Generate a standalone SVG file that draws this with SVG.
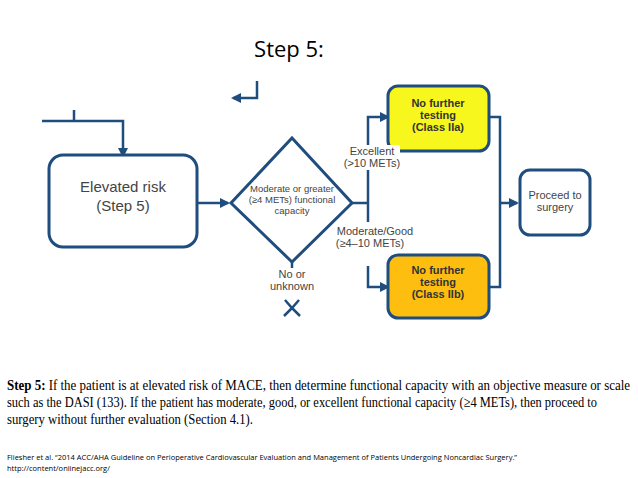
<svg xmlns="http://www.w3.org/2000/svg" width="638" height="478" viewBox="0 0 638 478">
<style>
.n{fill:#fff;stroke:#1f4d7e;stroke-width:3}
.c{fill:none;stroke:#1f4d7e;stroke-width:2.5}
.t{font-family:"Liberation Sans",Arial,sans-serif;fill:#444;text-anchor:middle}
.b{font-weight:bold;fill:#333}
</style>
<defs><marker id="a" viewBox="0 0 10 10" refX="8" refY="5" markerWidth="4" markerHeight="4" orient="auto"><path d="M0,0L10,5L0,10z" fill="#1f4d7e"/></marker></defs>
<rect width="638" height="478" fill="#fff"/>
<text x="289" y="57" font-family="Open Sans,sans-serif" font-size="22" text-anchor="middle" fill="#000">Step 5:</text>
<g id="connectors">
<path class="c" d="M42,121H123V156" marker-end="url(#a)"/>
<path class="c" d="M74,110V121"/>
<path class="c" d="M257,81V98H233" marker-end="url(#a)"/>
<path class="c" d="M198,203H228" marker-end="url(#a)"/>
<path class="c" d="M352,203H368M368,203V117H388" marker-end="url(#a)"/>
<path class="c" d="M368,203V222"/>
<path class="c" d="M368,266V287H388" marker-end="url(#a)"/>
<path class="c" d="M489,117H500V287H489M500,203H517" marker-end="url(#a)"/>
<path class="c" d="M292,262V268"/>
<path class="c" d="M285,300L292,308L299,300M292,308L284,316M292,308L300,316"/>
</g>
<g id="elevated"><rect class="n" x="49" y="155" width="148" height="92" rx="14"/>
<text class="t" x="123" y="192" font-size="15">Elevated risk</text><text class="t" x="123" y="211" font-size="15">(Step 5)</text></g>
<g id="decision"><path class="n" d="M292,138L352,203L292,262L231,203z" stroke-width="2.5"/>
<text class="t" x="292" y="192" font-size="9.5">Moderate or greater</text><text class="t" x="292" y="203" font-size="9.5">(≥4 METs) functional</text><text class="t" x="292" y="214" font-size="9.5">capacity</text></g>
<g id="yellow"><rect class="n" x="388" y="86" width="101" height="65" rx="10" style="fill:#f7f71e"/>
<text class="t b" x="438" y="107" font-size="11">No further</text><text class="t b" x="438" y="119" font-size="11">testing</text><text class="t b" x="438" y="131" font-size="11">(Class IIa)</text></g>
<g id="orange"><rect class="n" x="388" y="255" width="101" height="63" rx="10" style="fill:#fdbe10"/>
<text class="t b" x="438" y="274" font-size="11">No further</text><text class="t b" x="438" y="286" font-size="11">testing</text><text class="t b" x="438" y="298" font-size="11">(Class IIb)</text></g>
<g id="proceed"><rect class="n" x="520" y="170" width="70" height="65" rx="10" stroke-width="2.5"/>
<text class="t" x="555" y="199" font-size="11">Proceed to</text><text class="t" x="555" y="211" font-size="11">surgery</text></g>
<g id="labels">
<rect x="344" y="145" width="56" height="25" fill="#fff"/>
<text class="t" x="372" y="155" font-size="11">Excellent</text><text class="t" x="372" y="167" font-size="11">(&gt;10 METs)</text>
<text class="t" x="375" y="235" font-size="11">Moderate/Good</text><text class="t" x="370" y="247" font-size="11">(≥4–10 METs)</text>
<text class="t" x="292" y="278" font-size="11">No or</text><text class="t" x="292" y="290" font-size="11">unknown</text>
</g>
<g font-family="Liberation Serif,serif" font-size="15" fill="#000">
<text x="7" y="390" textLength="623" lengthAdjust="spacingAndGlyphs"><tspan font-weight="bold">Step 5:</tspan> If the patient is at elevated risk of MACE, then determine functional capacity with an objective measure or scale</text>
<text x="7" y="407" textLength="590" lengthAdjust="spacingAndGlyphs">such as the DASI (133). If the patient has moderate, good, or excellent functional capacity (≥4 METs), then proceed to</text>
<text x="7" y="424" textLength="246" lengthAdjust="spacingAndGlyphs">surgery without further evaluation (Section 4.1).</text>
</g>
<g font-family="Open Sans,sans-serif" font-size="7.5" fill="#000">
<text x="7" y="460">Fliesher et al. “2014 ACC/AHA Guideline on Perioperative Cardiovascular Evaluation and Management of Patients Undergoing Noncardiac Surgery.”</text>
<text x="7" y="471">http://content/onlinejacc.org/</text>
</g>
</svg>
